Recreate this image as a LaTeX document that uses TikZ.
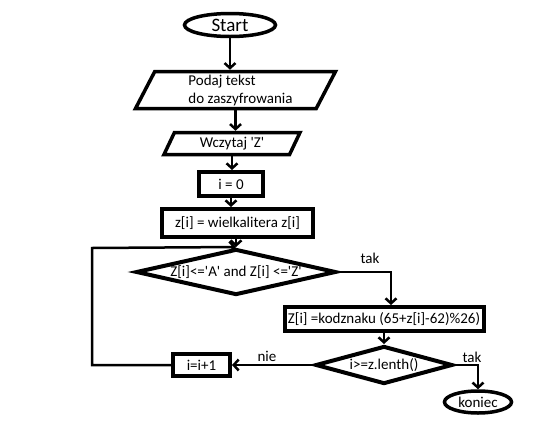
\documentclass[tikz,border=0pt]{standalone}
\usepackage{fontspec}
\setmainfont{Carlito}[Ligatures=TeXOff]
\usetikzlibrary{positioning,shapes.geometric,arrows.meta}

\begin{document}
\begin{tikzpicture}[x=1pt,y=-1pt,>={Straight Barb[length=5pt,width=11pt]},
                    font=\fontsize{15}{18}\selectfont,
                    every node/.style={align=center},
                    box/.style={draw, line width=4pt, rectangle, inner sep=0pt, fill=white},
                    io/.style={draw, line width=3.5pt, trapezium, trapezium stretches body,
                               inner sep=0pt, fill=white},
                    term/.style={draw, line width=3.5pt, ellipse, inner sep=0pt, fill=white},
                    test/.style={draw, line width=4pt, diamond, inner sep=0pt, fill=white},
                    flow/.style={line width=2.5pt, ->}]
\useasboundingbox (0,0) rectangle (558,424);
% glowna kolumna
\node[term, minimum width=91pt, minimum height=23pt, font=\fontsize{19}{22}\selectfont] (start) at (230,25) {Start};
\node[io, trapezium left angle=58, trapezium right angle=122, minimum width=200pt, minimum height=37pt,
      align=left] (read) at (235.5,90) {\hspace*{10pt}Podaj tekst\\\hspace*{10pt}do zaszyfrowania};
\node[io, trapezium left angle=51, trapezium right angle=129, minimum width=136pt, minimum height=22pt] (load) at (232,143.5) {Wczytaj 'Z'};
\node[box, minimum width=64pt, minimum height=24pt] (init) at (231,184) {i = 0};
\node[box, minimum width=151pt, minimum height=28pt] (upper) at (237.5,223) {z[i] = wielkalitera z[i]};
\node[test, aspect=4.35, minimum width=200pt, minimum height=46pt] (range) at (236,272) {Z[i]<='A' and Z[i] <='Z'};
% prawa strona
\node[box, minimum width=199pt, minimum height=24pt] (code) at (384,319) {Z[i] =kodznaku (65+z[i]-62)\%26)};
\node[test, aspect=3.6, minimum width=137pt, minimum height=38pt] (last) at (384,365) {i>=z.lenth()};
\node[box, minimum width=57pt, minimum height=22pt] (next) at (201.5,365) {i=i+1};
\node[term, minimum width=67pt, minimum height=22pt] (stop) at (478,402) {koniec};
% etykiety
\node (yes1) at (370,258) {tak};
\node (no) at (267,356) {nie};
\node (yes2) at (472,357) {tak};
\coordinate (back) at (92,248);

\draw[flow] (start.south) -- (start.south |- read.north);
\draw[flow] (read.south) -- (read.south |- load.north);
\draw[flow] (load.south) -- (load.south |- init.north);
\draw[flow] (init.south) -- (init.south |- upper.north);
\draw[flow] (range.north |- upper.south) -- (range.north);
\draw[flow] (range.east) -| ([xshift=7pt]code.north);
\draw[flow] (code.south) -- (last.north);
\draw[flow] (last.west) -- (next.east);
\draw[flow] (last.east) -| (stop.north);
\draw[flow] (next.west) -| (back) -- (range.north);
\end{tikzpicture}
\end{document}
